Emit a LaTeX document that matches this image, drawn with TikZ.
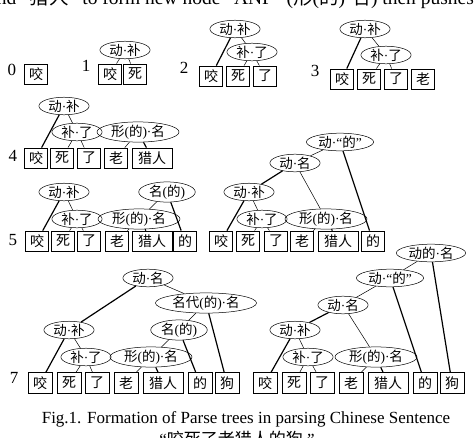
\documentclass[tikz,border=0pt]{standalone}
\usepackage{fontspec}
\setmainfont{Liberation Serif}
\newfontfamily\cjk{Noto Sans CJK SC}
\newfontfamily\lat{Liberation Serif}
\newcommand\mypd{{\lat ·}}
\newcommand\mylp{{\lat (}}
\newcommand\myrp{{\lat )}}
\newcommand\myoq{{\lat “}}
\newcommand\mycq{{\lat ”}}
\usetikzlibrary{shapes.geometric}
\begin{document}
\begin{tikzpicture}[x=1pt,y=-1pt,
 wbox/.style={draw, line width=0.8pt, minimum width=23pt, minimum height=20pt, inner sep=0pt, font=\cjk\fontsize{14}{14}\selectfont},
 wide/.style={minimum width=40pt},
 big/.style={minimum width=24pt, minimum height=21pt},
 ell/.style={ellipse, draw, line width=0.5pt, inner xsep=2pt, inner ysep=0pt, font=\cjk\fontsize{13.5}{13.5}\selectfont},
 thk/.style={line width=1.2pt},
 thn/.style={line width=0.5pt},
 num/.style={font=\fontsize{17}{17}\selectfont, inner sep=0pt}]
\useasboundingbox (0,0) rectangle (474,437);
\clip (0,0) rectangle (474,437);
\node[anchor=base west, font=\fontsize{19.5}{19.5}\selectfont, inner sep=0pt] (toptext) at (-12,4.5) {and “{\cjk 猎人}” to form new node “ANP” ({\cjk 形}({\cjk 的})·{\cjk 名}) then pushes};
% row 0
\node[num] (n0) at (12,70) {0};
\node[wbox] (a0) at (36,74) {咬};
% row 1
\node[num] (n1) at (86,66) {1};
\node[wbox] (b1a) at (110,74) {咬};
\node[wbox] (b1b) at (135,74) {死};
\node[ell] (e1) at (125,50) {动\mypd 补};
\draw[thn] (e1) -- (b1a); \draw[thn] (e1) -- (b1b);
% row 2
\node[num] (n2) at (184,68) {2};
\node[wbox] (c2a) at (211,76) {咬};
\node[wbox] (c2b) at (238,76) {死};
\node[wbox] (c2c) at (265,76) {了};
\node[ell] (e2a) at (235,29) {动\mypd 补};
\node[ell] (e2b) at (252,52) {补\mypd 了};
\draw[thk] (e2a) -- (c2a); \draw[thn] (e2a) -- (e2b);
\draw[thn] (e2b) -- (c2b); \draw[thn] (e2b) -- (c2c);
% row 3
\node[num] (n3) at (315,71) {3};
\node[wbox] (d3a) at (342,79) {咬};
\node[wbox] (d3b) at (369,79) {死};
\node[wbox] (d3c) at (396,79) {了};
\node[wbox] (d3d) at (423,79) {老};
\node[ell] (e3a) at (365,29) {动\mypd 补};
\node[ell] (e3b) at (386,55) {补\mypd 了};
\draw[thk] (e3a) -- (d3a); \draw[thn] (e3a) -- (e3b);
\draw[thn] (e3b) -- (d3b); \draw[thn] (e3b) -- (d3c);
% row 4
\node[num] (n4) at (13,156) {4};
\node[wbox] (f4a) at (36,158) {咬};
\node[wbox] (f4b) at (62,158) {死};
\node[wbox] (f4c) at (89,158) {了};
\node[wbox] (f4d) at (116,158) {老};
\node[wbox,wide] (f4e) at (152,158) {猎人};
\node[ell] (e4a) at (64,106) {动\mypd 补};
\node[ell] (e4b) at (77,132) {补\mypd 了};
\node[ell] (e4c) at (138,132) {形\mylp 的\myrp\mypd 名};
\draw[thk] (e4a) -- (f4a); \draw[thn] (e4a) -- (e4b);
\draw[thn] (e4b) -- (f4b); \draw[thn] (e4b) -- (f4c);
\draw[thn] (e4c) -- (f4d); \draw[thk] (e4c) -- (f4e);
% row 5
\node[num] (n5) at (13,240) {5};
\node[wbox] (g5a) at (37,241) {咬};
\node[wbox] (g5b) at (63,241) {死};
\node[wbox] (g5c) at (89,241) {了};
\node[wbox] (g5d) at (117,241) {老};
\node[wbox,wide] (g5e) at (152,241) {猎人};
\node[wbox] (g5f) at (185,241) {的};
\node[ell] (e5a) at (64,192) {动\mypd 补};
\node[ell] (e5b) at (77,219) {补\mypd 了};
\node[ell] (e5c) at (139,219) {形\mylp 的\myrp\mypd 名};
\node[ell] (e5d) at (167,192) {名\mylp 的\myrp};
\draw[thk] (e5a) -- (g5a); \draw[thn] (e5a) -- (e5b);
\draw[thn] (e5b) -- (g5b); \draw[thn] (e5b) -- (g5c);
\draw[thn] (e5c) -- (g5d); \draw[thk] (e5c) -- (g5e);
\draw[thn] (e5d) -- (e5c); \draw[thk] (e5d) -- (g5f);
% row 6
\node[wbox] (h6a) at (221,241) {咬};
\node[wbox] (h6b) at (248,241) {死};
\node[wbox] (h6c) at (276,241) {了};
\node[wbox] (h6d) at (302,241) {老};
\node[wbox,wide] (h6e) at (338,241) {猎人};
\node[wbox] (h6f) at (373,241) {的};
\node[ell] (e6a) at (249,192) {动\mypd 补};
\node[ell] (e6b) at (262,219) {补\mypd 了};
\node[ell] (e6c) at (326,219) {形\mylp 的\myrp\mypd 名};
\node[ell] (e6d) at (295,163) {动\mypd 名};
\node[ell] (e6e) at (340,142) {动\mypd\myoq 的\mycq};
\draw[thk] (e6a) -- (h6a); \draw[thn] (e6a) -- (e6b);
\draw[thn] (e6b) -- (h6b); \draw[thn] (e6b) -- (h6c);
\draw[thn] (e6c) -- (h6d); \draw[thk] (e6c) -- (h6e);
\draw[thk] (e6d) -- (e6a); \draw[thn] (e6d) -- (e6c);
\draw[thn] (e6e) -- (e6d); \draw[thk] (e6e) -- (h6f);
% row 7 left
\node[num] (n7) at (14,378) {7};
\node[wbox,big] (i7a) at (40,383) {咬};
\node[wbox,big] (i7b) at (69,383) {死};
\node[wbox,big] (i7c) at (97,383) {了};
\node[wbox,big] (i7d) at (126,383) {老};
\node[wbox,big,wide] (i7e) at (163,383) {猎人};
\node[wbox,big] (i7f) at (200,383) {的};
\node[wbox,big] (i7g) at (227,383) {狗};
\node[ell] (e7a) at (148,278) {动\mypd 名};
\node[ell] (e7b) at (206,303) {名代\mylp 的\myrp\mypd 名};
\node[ell] (e7c) at (69,330) {动\mypd 补};
\node[ell] (e7d) at (179,330) {名\mylp 的\myrp};
\node[ell] (e7e) at (86,357) {补\mypd 了};
\node[ell] (e7f) at (151,357) {形\mylp 的\myrp\mypd 名};
\draw[thk] (e7a) -- (e7c); \draw[thn] (e7a) -- (e7b);
\draw[thn] (e7b) -- (e7d); \draw[thk] (e7b) -- (i7g);
\draw[thn] (e7d) -- (e7f); \draw[thk] (e7d) -- (i7f);
\draw[thk] (e7c) -- (i7a); \draw[thn] (e7c) -- (e7e);
\draw[thn] (e7e) -- (i7b); \draw[thn] (e7e) -- (i7c);
\draw[thn] (e7f) -- (i7d); \draw[thk] (e7f) -- (i7e);
% row 7 right
\node[wbox,big] (j7a) at (265,383) {咬};
\node[wbox,big] (j7b) at (294,383) {死};
\node[wbox,big] (j7c) at (322,383) {了};
\node[wbox,big] (j7d) at (351,383) {老};
\node[wbox,big,wide] (j7e) at (388,383) {猎人};
\node[wbox,big] (j7f) at (425,383) {的};
\node[wbox,big] (j7g) at (452,383) {狗};
\node[ell] (e8a) at (431,253) {动的\mypd 名};
\node[ell] (e8b) at (390,278) {动\mypd\myoq 的\mycq};
\node[ell] (e8c) at (343,305) {动\mypd 名};
\node[ell] (e8d) at (295,330) {动\mypd 补};
\node[ell] (e8e) at (308,357) {补\mypd 了};
\node[ell] (e8f) at (376,357) {形\mylp 的\myrp\mypd 名};
\draw[thn] (e8a) -- (e8b); \draw[thk] (e8a) -- (j7g);
\draw[thn] (e8b) -- (e8c); \draw[thk] (e8b) -- (j7f);
\draw[thk] (e8c) -- (e8d); \draw[thn] (e8c) -- (e8f);
\draw[thk] (e8d) -- (j7a); \draw[thn] (e8d) -- (e8e);
\draw[thn] (e8e) -- (j7b); \draw[thn] (e8e) -- (j7c);
\draw[thn] (e8f) -- (j7d); \draw[thk] (e8f) -- (j7e);
% caption
\node[font=\fontsize{17}{17}\selectfont, inner sep=0pt] (cap1) at (246,419) {Fig.1. Formation of Parse trees in parsing Chinese Sentence};
\node[font=\fontsize{17}{17}\selectfont, inner sep=0pt, anchor=north] (cap2) at (237,431) {“{\cjk 咬死了老猎人的狗} ”};
\end{tikzpicture}
\end{document}
